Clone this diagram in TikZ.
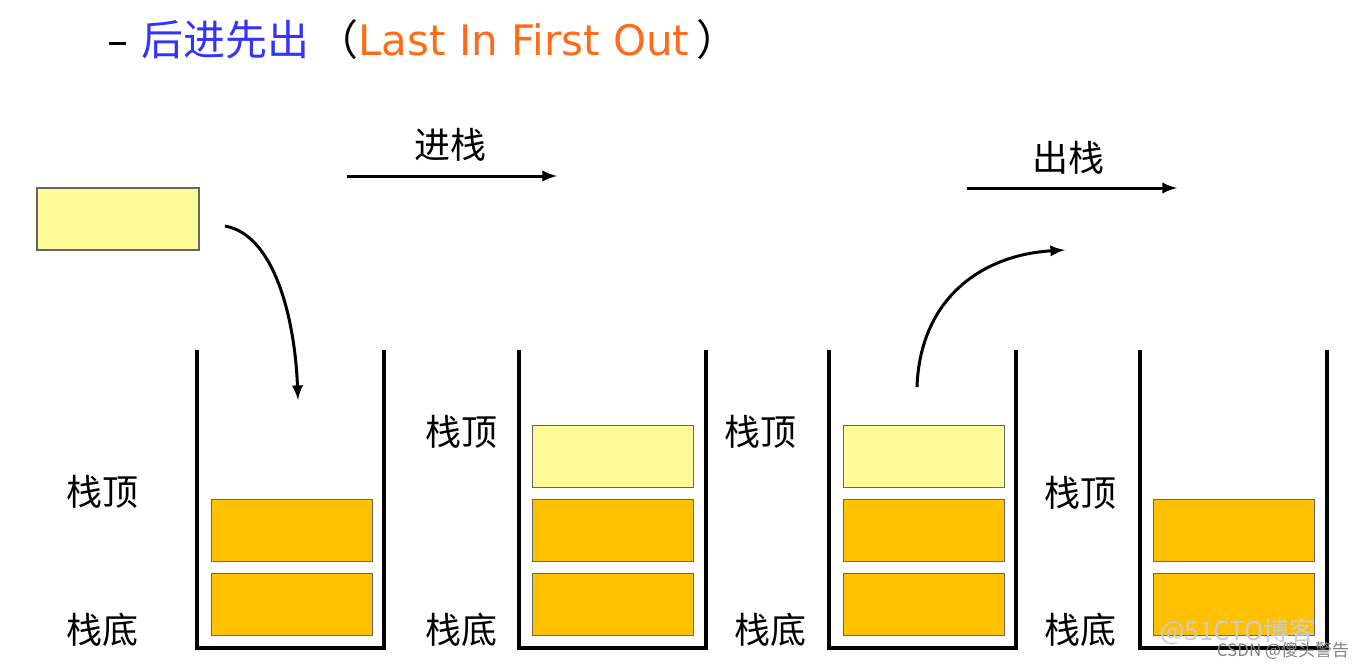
\documentclass[tikz,border=0pt]{standalone}
\usepackage{fontspec}
\setmainfont{DejaVu Sans}
\newfontfamily\cjk{Noto Sans CJK SC}
\begin{document}
\begin{tikzpicture}[x=0.5pt,y=-0.5pt,
  lab/.style={font=\cjk\fontsize{18}{18}\selectfont},
  lt/.style={draw=gray!80!black,line width=0.6pt,fill=yellow!40},
  og/.style={draw=gray!80!black,line width=0.6pt,fill={rgb,255:red,255;green,192;blue,0}},
  wall/.style={line width=1.6pt},
  arr/.style={line width=1.5pt,-latex}]
\useasboundingbox (0,0) rectangle (1367,669);
\node[anchor=west,font=\fontsize{21}{21}\selectfont] (t) at (100,40) {–\ {\cjk\color[rgb]{0.2,0.2,1}后进先出}\,{\cjk（}{\color[rgb]{1,0.42,0.1}Last In First Out}\,{\cjk）}};
\node[lt,minimum width=81pt,minimum height=31pt,inner sep=0pt] (loose) at (118,219) {};
\coordinate (a1s) at (225,226); \coordinate (a1e) at (298,400);
\draw[arr] (a1s) .. controls (275,235) and (295,320) .. (a1e);
\foreach \i/\xl in {1/197,2/519,3/829,4/1140}{
  \draw[wall] (\xl,350) -- (\xl,648) -- (\xl+187,648) -- (\xl+187,350);
}
\foreach \n/\x in {b1/211,b2/532,b3/843,b4/1153}{
  \node[og,anchor=north west,minimum width=80.5pt,minimum height=31pt,inner sep=0pt] (\n a) at (\x,573) {};
  \node[og,anchor=north west,minimum width=80.5pt,minimum height=31pt,inner sep=0pt] (\n b) at (\x,499) {};
}
\node[lt,anchor=north west,minimum width=80.5pt,minimum height=31pt,inner sep=0pt] (y2) at (532,425) {};
\node[lt,anchor=north west,minimum width=80.5pt,minimum height=31pt,inner sep=0pt] (y3) at (843,425) {};
\node[lab] (d1) at (102,492) {栈顶}; \node[lab] (e1) at (102,630) {栈底};
\node[lab] (d2) at (461,432) {栈顶}; \node[lab] (e2) at (461,630) {栈底};
\node[lab] (d3) at (760,432) {栈顶}; \node[lab] (e3) at (770,630) {栈底};
\node[lab] (d4) at (1080,493) {栈顶}; \node[lab] (e4) at (1080,630) {栈底};
\node[lab] (in) at (450,145) {进栈};
\coordinate (i1) at (347,176); \coordinate (i2) at (557,176);
\draw[arr] (i1) -- (i2);
\node[lab] (out) at (1068,158) {出栈};
\coordinate (o1) at (967,188); \coordinate (o2) at (1177,188);
\draw[arr] (o1) -- (o2);
\coordinate (a2s) at (917,387); \coordinate (a2e) at (1065,250);
\draw[arr] (a2s) .. controls (920,300) and (980,255) .. (a2e);
\node[font=\cjk\fontsize{13}{13}\selectfont,text=gray!40] (w1) at (1238,632) {@51CTO博客};
\node[font=\cjk\fontsize{8.5}{8.5}\selectfont,text=gray] (w2) at (1283,651) {CSDN @傻头警告};
\end{tikzpicture}
\end{document}
